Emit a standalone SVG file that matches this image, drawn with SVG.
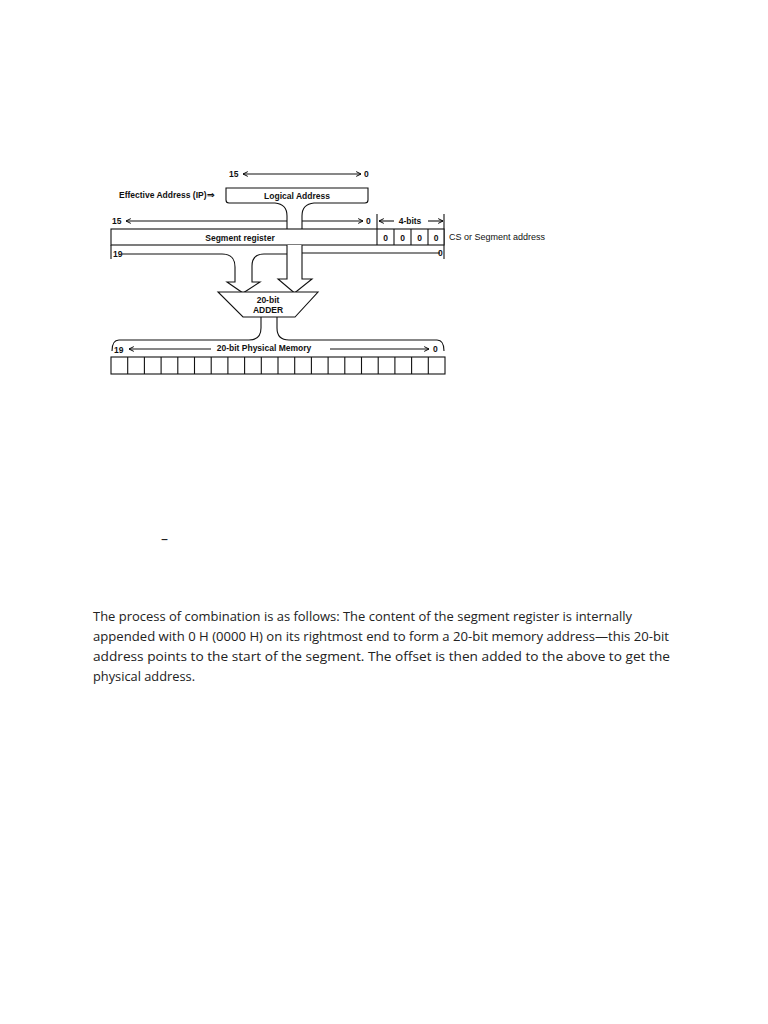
<svg xmlns="http://www.w3.org/2000/svg" width="768" height="1024" viewBox="0 0 768 1024">
<defs>
<marker id="ah" viewBox="0 0 10 10" refX="9" refY="5" markerWidth="6" markerHeight="6" orient="auto-start-reverse" markerUnits="userSpaceOnUse">
<path d="M1,1 L9,5 L1,9" fill="none" stroke="#000" stroke-width="1.6"/>
</marker>
<style>
.ln{fill:none;stroke:#111;stroke-width:1.1}
.bx{fill:#fff;stroke:#111;stroke-width:1.1}
.t{font-family:"Liberation Sans",Arial,sans-serif;font-size:8.5px;fill:#111;font-weight:bold}
.c{text-anchor:middle}
.p{font-family:"Open Sans","Liberation Sans",sans-serif;font-size:12.5px;fill:#222}
</style>
</defs>
<rect width="768" height="1024" fill="#fff"/>

<g id="connectors">
<line class="ln" x1="243" y1="174" x2="361" y2="174" marker-start="url(#ah)" marker-end="url(#ah)"/>
<line class="ln" x1="126" y1="221" x2="287" y2="221" marker-start="url(#ah)"/>
<line class="ln" x1="302" y1="221" x2="363" y2="221" marker-end="url(#ah)"/>
<line class="ln" x1="377" y1="214" x2="377" y2="229"/>
<line class="ln" x1="444" y1="214" x2="444" y2="259"/>
<line class="ln" x1="379" y1="221" x2="394" y2="221" marker-start="url(#ah)"/>
<line class="ln" x1="428" y1="221" x2="443" y2="221" marker-end="url(#ah)"/>
<line class="ln" x1="111" y1="245" x2="111" y2="259"/>
<line class="ln" x1="302" y1="253" x2="440" y2="253"/>
<line class="ln" x1="129" y1="349" x2="211" y2="349" marker-start="url(#ah)"/>
<line class="ln" x1="330" y1="349" x2="429" y2="349" marker-end="url(#ah)"/>
<path class="ln" d="M261,317 V328 Q261,340 249,340 H119 Q112,340 112,351"/>
<path class="ln" d="M277,317 V328 Q277,340 289,340 H437 Q444,340 444,351"/>
</g>

<g id="logical-address">
<path fill="#fff" stroke="none" d="M226,188 H368 V200 Q368,203 365,203 H314 Q302,204 302,216 V229 H287 V216 Q287,204 275,203 H229 Q226,203 226,200 Z"/>
<path class="ln" d="M287,229 V216 Q287,204 275,203 H229 Q226,203 226,200 V188 H368 V200 Q368,203 365,203 H314 Q302,204 302,216 V229"/>
<text class="t c" x="297" y="199">Logical Address</text>
</g>

<g id="segment-register">
<rect class="bx" x="111" y="229" width="333" height="16"/>
<line class="ln" x1="377" y1="229" x2="377" y2="245"/>
<line class="ln" x1="394" y1="229" x2="394" y2="245"/>
<line class="ln" x1="411" y1="229" x2="411" y2="245"/>
<line class="ln" x1="428" y1="229" x2="428" y2="245"/>
<text class="t c" x="240" y="241">Segment register</text>
<text class="t c" x="385.5" y="241">0</text>
<text class="t c" x="402.5" y="241">0</text>
<text class="t c" x="419.5" y="241">0</text>
<text class="t c" x="436" y="241">0</text>
</g>

<g id="arrow-left">
<path class="bx" d="M122,254 H222 Q235,254 235,267 V282 H227 L243,293 L260,282 H252 V266 Q252,254 264,254 H287"/>
</g>
<g id="arrow-center">
<path class="bx" d="M287,245 V279 H278 L294.5,293 L312,279 H302 V245"/>
</g>

<g id="adder">
<path class="bx" d="M218,292 H318 L295,317 H243 Z"/>
<text class="t c" x="268" y="303">20-bit</text>
<text class="t c" x="268" y="313">ADDER</text>
</g>

<g id="memory">
<rect class="bx" x="111" y="357" width="334" height="17"/>
<path class="ln" d="M127.7,357V374M144.4,357V374M161.1,357V374M177.8,357V374M194.5,357V374M211.2,357V374M227.9,357V374M244.6,357V374M261.3,357V374M278,357V374M294.7,357V374M311.4,357V374M328.1,357V374M344.8,357V374M361.5,357V374M378.2,357V374M394.9,357V374M411.6,357V374M428.3,357V374"/>
<text class="t c" x="264" y="351">20-bit Physical Memory</text>
</g>

<g id="labels">
<text class="t" x="229" y="177">15</text>
<text class="t" x="364" y="177">0</text>
<text class="t" x="119" y="198">Effective Address (IP)⇒</text>
<text class="t" x="112" y="224">15</text>
<text class="t" x="366" y="224">0</text>
<text class="t c" x="410" y="224">4-bits</text>
<text class="t" x="449" y="240" style="font-weight:normal;font-size:9px">CS or Segment address</text>
<text class="t" x="113" y="257">19</text>
<text class="t" x="438" y="256">0</text>
<text class="t" x="114" y="353">19</text>
<text class="t" x="433" y="352">0</text>
</g>

<text class="p" x="161" y="544" style="font-size:14px">–</text>
<text class="p" x="93" y="621" textLength="539" lengthAdjust="spacingAndGlyphs">The process of combination is as follows: The content of the segment register is internally</text>
<text class="p" x="93" y="641" textLength="576" lengthAdjust="spacingAndGlyphs">appended with 0 H (0000 H) on its rightmost end to form a 20-bit memory address—this 20-bit</text>
<text class="p" x="93" y="661" textLength="577" lengthAdjust="spacingAndGlyphs">address points to the start of the segment. The offset is then added to the above to get the</text>
<text class="p" x="93" y="681" textLength="102" lengthAdjust="spacingAndGlyphs">physical address.</text>
</svg>
